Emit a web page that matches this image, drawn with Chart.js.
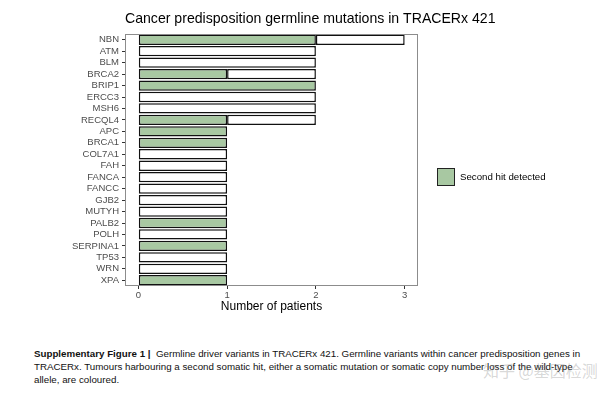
<!DOCTYPE html>
<html>
<head>
<meta charset="utf-8">
<script src="https://cdn.jsdelivr.net/npm/chart.js@4.4.1/dist/chart.umd.min.js"></script>
<style>
  body { margin: 0; background: #fff; }
  #wrap { position: relative; width: 600px; height: 394px; font-family: "Liberation Sans", Arial, sans-serif; }
  #chart { position: absolute; left: 0; top: 0; }
  #caption { position: absolute; left: 34px; top: 347px; width: 552px; font-size: 9.75px; line-height: 13px; color: #111; }
  #mark { position: absolute; left: 483px; top: 358px; font-family: "Noto Sans CJK SC", sans-serif; font-size: 16px; color: rgba(120,120,120,0.3); }
</style>
</head>
<body>
<div id="wrap">
  <canvas id="chart" width="600" height="330"></canvas>
  <div id="caption"><b>Supplementary Figure 1 |</b>&nbsp; Germline driver variants in TRACERx 421. Germline variants within cancer predisposition genes in TRACERx. Tumours harbouring a second somatic hit, either a somatic mutation or somatic copy number loss of the wild-type allele, are coloured.</div>
  <div id="mark">知乎 @基因检测</div>
</div>
<script>
const genes = ['NBN', 'ATM', 'BLM', 'BRCA2', 'BRIP1', 'ERCC3', 'MSH6', 'RECQL4', 'APC', 'BRCA1', 'COL7A1',
    'FAH', 'FANCA', 'FANCC', 'GJB2', 'MUTYH', 'PALB2', 'POLH', 'SERPINA1', 'TP53', 'WRN', 'XPA'];
const totalPatients = [3, 2, 2, 2, 2, 2, 2, 2, 1, 1, 1, 1, 1, 1, 1, 1, 1, 1, 1, 1, 1, 1];
const secondHit = [2, 0, 0, 1, 2, 0, 0, 1, 1, 1, 0, 0, 0, 0, 0, 0, 1, 0, 1, 0, 0, 1];
const xTicks = [0, 1, 2, 3];

const noSecondHit = totalPatients.map((t, i) => t - secondHit[i]);

const green = '#a8c8a2';
const labelFont = { family: 'Liberation Sans, Arial, sans-serif', size: 9.5 };

// panel border, title and legend drawn in ggplot style
const decor = {
    id: 'decor',
    afterDraw(chart) {
        const { ctx, chartArea: a } = chart;
        ctx.save();
        ctx.strokeStyle = '#8c8c8c';
        ctx.lineWidth = 1;
        ctx.strokeRect(a.left + 0.5, a.top + 0.5, a.right - a.left - 1, a.bottom - a.top - 1);

        ctx.fillStyle = '#000';
        ctx.font = '14.1px "Liberation Sans", Arial, sans-serif';
        ctx.textBaseline = 'middle';
        ctx.textAlign = 'left';
        ctx.fillText('Cancer predisposition germline mutations in TRACERx 421', a.left, 19);

        const ds = chart.data.datasets[0];
        ctx.fillStyle = ds.backgroundColor;
        ctx.fillRect(437, 168, 18, 18);
        ctx.strokeStyle = '#222';
        ctx.lineWidth = 1;
        ctx.strokeRect(437.5, 168.5, 17, 17);
        ctx.fillStyle = '#000';
        ctx.font = '9.7px "Liberation Sans", Arial, sans-serif';
        ctx.fillText(ds.label, 460, 177.5);
        ctx.restore();
    }
};

new Chart(document.getElementById('chart'), {
    type: 'bar',
    data: {
        labels: genes,
        datasets: [
            {
                label: 'Second hit detected',
                data: secondHit,
                backgroundColor: green,
                borderColor: '#111',
                borderWidth: 1.5,
                borderSkipped: false,
                categoryPercentage: 1,
                barPercentage: 0.9
            },
            {
                label: 'No second hit',
                data: noSecondHit,
                backgroundColor: '#fff',
                borderColor: '#111',
                borderWidth: 1.5,
                borderSkipped: false,
                categoryPercentage: 1,
                barPercentage: 0.9
            }
        ]
    },
    options: {
        indexAxis: 'y',
        responsive: false,
        animation: false,
        layout: { padding: { left: 0, top: 34, right: 182, bottom: 0 } },
        plugins: {
            legend: { display: false },
            tooltip: { enabled: false }
        },
        scales: {
            x: {
                stacked: true,
                min: -0.15,
                max: 3.15,
                afterBuildTicks(scale) {
                    scale.ticks = xTicks.map(v => ({ value: v }));
                },
                afterFit(scale) { scale.height = 44; },
                border: { display: false },
                grid: { drawOnChartArea: false, drawTicks: true, tickLength: 3, color: '#333', lineWidth: 1 },
                ticks: { color: '#4d4d4d', font: labelFont, padding: 1, maxRotation: 0 },
                title: {
                    display: true,
                    text: 'Number of patients',
                    color: '#000',
                    font: { family: 'Liberation Sans, Arial, sans-serif', size: 12 },
                    padding: { top: 2, bottom: 16 }
                }
            },
            y: {
                stacked: true,
                afterFit(scale) { scale.width = 125; },
                border: { display: false },
                grid: { offset: false, drawOnChartArea: false, drawTicks: true, tickLength: 3, color: '#333', lineWidth: 1 },
                ticks: { color: '#4d4d4d', font: labelFont, padding: 3, autoSkip: false }
            }
        }
    },
    plugins: [decor]
});
</script>
</body>
</html>
